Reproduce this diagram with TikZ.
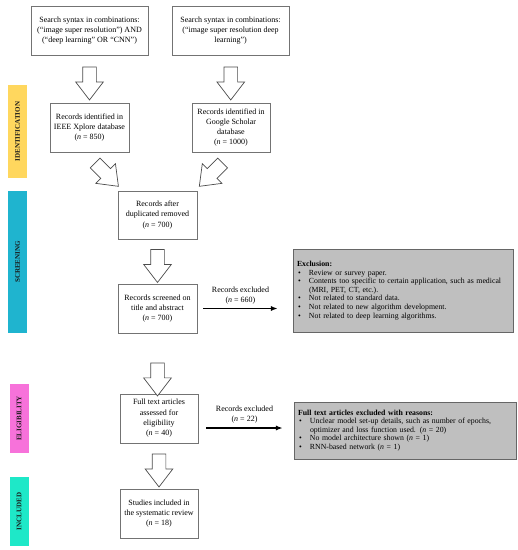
\documentclass[tikz,border=0pt]{standalone}
\usepackage{fontspec}
\setmainfont{Liberation Serif}
\usepackage{tikz}
\usetikzlibrary{positioning, arrows.meta, shapes.arrows, calc}
\usepackage{xcolor}
\definecolor{idyellow}{HTML}{FFD75E}
\definecolor{scrteal}{HTML}{1FB4CF}
\definecolor{elipink}{HTML}{F772DA}
\definecolor{incaqua}{HTML}{1EE8C8}
\definecolor{exgray}{HTML}{BFBFBF}
\newcommand{\bul}[1]{\par\noindent\makebox[12pt][l]{\hspace{1pt}\textbullet}\parbox[t]{\dimexpr\linewidth-12pt}{\raggedright #1}}

\begin{document}
\begin{tikzpicture}[
        x = 1pt, y = -1pt,
        box/.style = {draw=black!55, line width=0.6pt, align=center, inner sep=2pt, minimum height=49pt, font=\fontsize{8}{10.3}\selectfont},
        stage/.style = {rotate=90, minimum width=#1, minimum height=19pt, inner sep=0pt, text=black!90, font=\fontsize{7}{8}\selectfont\bfseries},
        exbox/.style = {draw=black!60, fill=exgray, line width=0.6pt, align=left, inner sep=4pt, font=\fontsize{7.8}{8.7}\selectfont},
        hollow/.style = {single arrow, draw=black!70, fill=white, line width=0.7pt, inner sep=0pt, inner ysep=6.5pt, minimum height=33pt, single arrow head extend=7pt, single arrow tip angle=75},
        exarrow/.style = {-{Latex[length=2.4mm, width=1.8mm]}, line width=1.4pt},
        exlabel/.style = {align=center, inner sep=1pt, above=3pt, font=\fontsize{8}{10}\selectfont},
    ]
        \useasboundingbox (0,0) rectangle (518,550);
        % stages
        \node[stage=93pt, fill=idyellow] (sid) at (17.5,131.5) {IDENTIFICATION};
        \node[stage=142pt, fill=scrteal] (sscr) at (17.5,262) {SCREENING};
        \node[stage=69pt, fill=elipink] (selig) at (19,418.5) {ELIGIBILITY};
        \node[stage=69pt, fill=incaqua] (sinc) at (19,511.5) {INCLUDED};
        % flow boxes
        \node[box, minimum width=117pt] (srch1) at (89.5,30.5) {Search syntax in combinations:\\(“image super resolution”) AND\\(“deep learning” OR “CNN”)};
        \node[box, minimum width=117pt] (srch2) at (230.5,30.5) {Search syntax in combinations:\\(“image super resolution deep\\learning”)};
        \node[box, minimum width=79pt] (ieee) at (89.5,127.5) {Records identified in\\IEEE Xplore database\\(\textit{n} = 850)};
        \node[box, minimum width=78pt] (gs) at (231,127.5) {Records identified in\\Google Scholar\\database\\(\textit{n} = 1000)};
        \node[box, minimum width=79pt, minimum height=48pt] (dup) at (157.5,215) {Records after\\duplicated removed\\(\textit{n} = 700)};
        \node[box, minimum width=79pt] (scr) at (157.5,308.5) {Records screened on\\title and abstract\\(\textit{n} = 700)};
        \node[box, minimum width=78pt] (full) at (159,418.5) {Full text articles\\assessed for\\eligibility\\(\textit{n} = 40)};
        \node[box, minimum width=78pt] (incl) at (159,513.5) {Studies included in\\the systematic review\\(\textit{n} = 18)};
        % exclusion boxes
        \node[exbox, text width=212pt, minimum height=83pt] (excl) at (403,290.5) {\textbf{Exclusion:}
            \bul{Review or survey paper.}
            \bul{Contents too specific to certain application, such as medical (MRI, PET, CT, etc.).}
            \bul{Not related to standard data.}
            \bul{Not related to new algorithm development.}
            \bul{Not related to deep learning algorithms.}};
        \node[exbox, text width=214pt, minimum height=57pt] (ftex) at (405,430.5) {\textbf{Full text articles excluded with reasons:}
            \bul{Unclear model set-up details, such as number of epochs, optimizer and loss function used. (\textit{n} = 20)}
            \bul{No model architecture shown (\textit{n} = 1)}
            \bul{RNN-based network (\textit{n} = 1)}};
        % hollow arrows
        \path (srch1) -- node[hollow, rotate=-90] (h1) {} (ieee);
        \path (srch2) -- node[hollow, rotate=-90] (h2) {} (gs);
        \path (ieee.south) -- node[hollow, rotate=-45] (h3) {} (dup.north west);
        \path (gs.south) -- node[hollow, rotate=-135] (h4) {} (dup.north east);
        \path (dup) -- node[hollow, rotate=-90] (h5) {} (scr);
        \path (scr.south) -- node[hollow, rotate=-90, pos=0.69] (h6) {} (scr.south |- full.north);
        \path (full) -- node[hollow, rotate=-90] (h7) {} (incl);
        % excluded
        \draw[exarrow] ([xshift=6pt]scr.east) -- node[exlabel] {Records excluded\\(\textit{n} = 660)} ($(scr.east -| excl.west)+(-15pt,0)$);
        \draw[exarrow] ([shift={(8pt,-9.5pt)}]full.east) -- node[exlabel] {Records excluded\\(\textit{n} = 22)} ($(full.east -| ftex.west)+(-11pt,-9.5pt)$);
    \end{tikzpicture}
\end{document}
